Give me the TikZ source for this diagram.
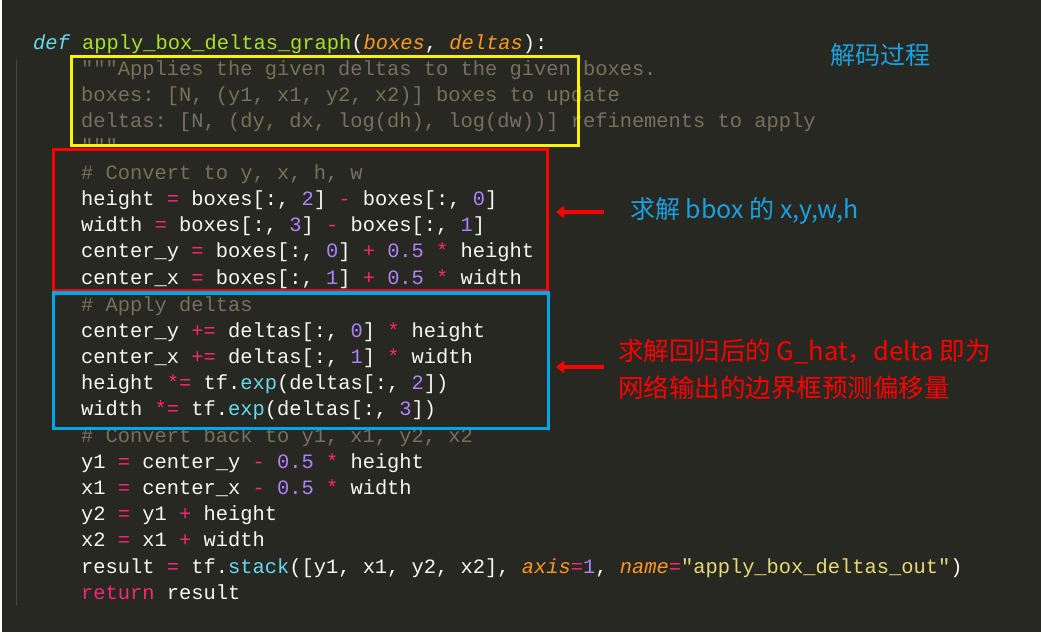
\documentclass[tikz,border=0pt]{standalone}
\usepackage{fontspec}
\setmonofont{Liberation Mono}
\newfontfamily\cjk{Noto Sans CJK SC}
\definecolor{bgc}{HTML}{272822}
\definecolor{cmt}{HTML}{75715E}
\definecolor{kwc}{HTML}{66D9EF}
\definecolor{fnc}{HTML}{A6E22E}
\definecolor{prc}{HTML}{FD971F}
\definecolor{opc}{HTML}{F92672}
\definecolor{nmc}{HTML}{AE81FF}
\definecolor{stc}{HTML}{E6DB74}
\definecolor{fgc}{HTML}{F8F8F2}
\definecolor{ybox}{HTML}{FFF200}
\definecolor{rbox}{HTML}{FF0000}
\definecolor{bbox}{HTML}{00A8E8}
\definecolor{bluetxt}{HTML}{1BA1E2}
\newcommand\Op[1]{\textcolor{opc}{#1}}
\newcommand\Nm[1]{\textcolor{nmc}{#1}}
\newcommand\Cm[1]{\textcolor{cmt}{#1}}
\newcommand\Fn[1]{\textcolor{kwc}{#1}}
\tikzset{code/.style={anchor=base west,inner sep=0pt,text=fgc,font=\ttfamily\fontsize{20.4}{20}\selectfont},
hl/.style={line width=3pt},
arr/.style={draw=rbox,line width=3.5pt,-{Triangle[length=8pt,width=12pt]}},
note/.style={anchor=west,inner sep=0pt,font=\cjk\fontsize{25}{25}\selectfont}}
\usetikzlibrary{arrows.meta}
\begin{document}
\begin{tikzpicture}[x=1pt,y=-1pt]
\useasboundingbox (0,0) rectangle (1041,636);
\fill[white] (0,0) rectangle (1041,636);
\fill[bgc] (2,0) rectangle (1041,632);
\draw[cmt!45!bgc,line width=0.8pt] (16,60) -- (16,605);
\node[code] (l1) at (33,50) {\textcolor{kwc}{\itshape def} \textcolor{fnc}{apply\_box\_deltas\_graph}(\textcolor{prc}{\itshape boxes}, \textcolor{prc}{\itshape deltas}):};
\node[code,text=cmt] (l2) at (81,76) {"""Applies the given deltas to the given boxes.};
\node[code,text=cmt] (l3) at (81,102) {boxes: [N, (y1, x1, y2, x2)] boxes to update};
\node[code,text=cmt] (l4) at (81,128) {deltas: [N, (dy, dx, log(dh), log(dw))] refinements to apply};
\node[code,text=cmt] (l5) at (81,154) {"""};
\node[code,text=cmt] (l6) at (81,180) {\# Convert to y, x, h, w};
\node[code] (l7) at (81,206) {height \Op{=} boxes[:, \Nm{2}] \Op{-} boxes[:, \Nm{0}]};
\node[code] (l8) at (81,232) {width \Op{=} boxes[:, \Nm{3}] \Op{-} boxes[:, \Nm{1}]};
\node[code] (l9) at (81,258) {center\_y \Op{=} boxes[:, \Nm{0}] \Op{+} \Nm{0.5} \Op{*} height};
\node[code] (l10) at (81,284) {center\_x \Op{=} boxes[:, \Nm{1}] \Op{+} \Nm{0.5} \Op{*} width};
\node[code,text=cmt] (l11) at (81,311) {\# Apply deltas};
\node[code] (l12) at (81,337) {center\_y \Op{+=} deltas[:, \Nm{0}] \Op{*} height};
\node[code] (l13) at (81,363) {center\_x \Op{+=} deltas[:, \Nm{1}] \Op{*} width};
\node[code] (l14) at (81,389) {height \Op{*=} tf.\Fn{exp}(deltas[:, \Nm{2}])};
\node[code] (l15) at (81,415) {width \Op{*=} tf.\Fn{exp}(deltas[:, \Nm{3}])};
\node[code,text=cmt] (l16) at (81,442) {\# Convert back to y1, x1, y2, x2};
\node[code] (l17) at (81,468) {y1 \Op{=} center\_y \Op{-} \Nm{0.5} \Op{*} height};
\node[code] (l18) at (81,494) {x1 \Op{=} center\_x \Op{-} \Nm{0.5} \Op{*} width};
\node[code] (l19) at (81,520) {y2 \Op{=} y1 \Op{+} height};
\node[code] (l20) at (81,546) {x2 \Op{=} x1 \Op{+} width};
\node[code] (l21) at (81,573) {result \Op{=} tf.\Fn{stack}([y1, x1, y2, x2], \textcolor{prc}{\itshape axis}\Op{=}\Nm{1}, \textcolor{prc}{\itshape name}\Op{=}\textcolor{stc}{"apply\_box\_deltas\_out"})};
\node[code] (l22) at (81,599) {\Op{return} result};
\draw[hl,ybox] (71,57) rectangle (578,146);
\draw[hl,rbox] (53,150) rectangle (547,291);
\draw[hl,bbox] (53,293) rectangle (548,428);
\coordinate (a1s) at (604,212); \coordinate (a1e) at (556,212);
\coordinate (a2s) at (604,367); \coordinate (a2e) at (556,367);
\draw[arr] (a1s) -- (a1e);
\draw[arr] (a2s) -- (a2e);
\node[note,text=bluetxt,anchor=center] (t0) at (880,55) {解码过程};
\node[note,text=bluetxt] (t1) at (630,211) {求解 bbox 的 x,y,w,h};
\node[note,text=rbox,font=\cjk\fontsize{25.5}{25.5}\selectfont] (t2) at (618,352) {求解回归后的 G\_hat，delta 即为};
\node[note,text=rbox,font=\cjk\fontsize{25.5}{25.5}\selectfont] (t3) at (618,388) {网络输出的边界框预测偏移量};
\end{tikzpicture}
\end{document}
